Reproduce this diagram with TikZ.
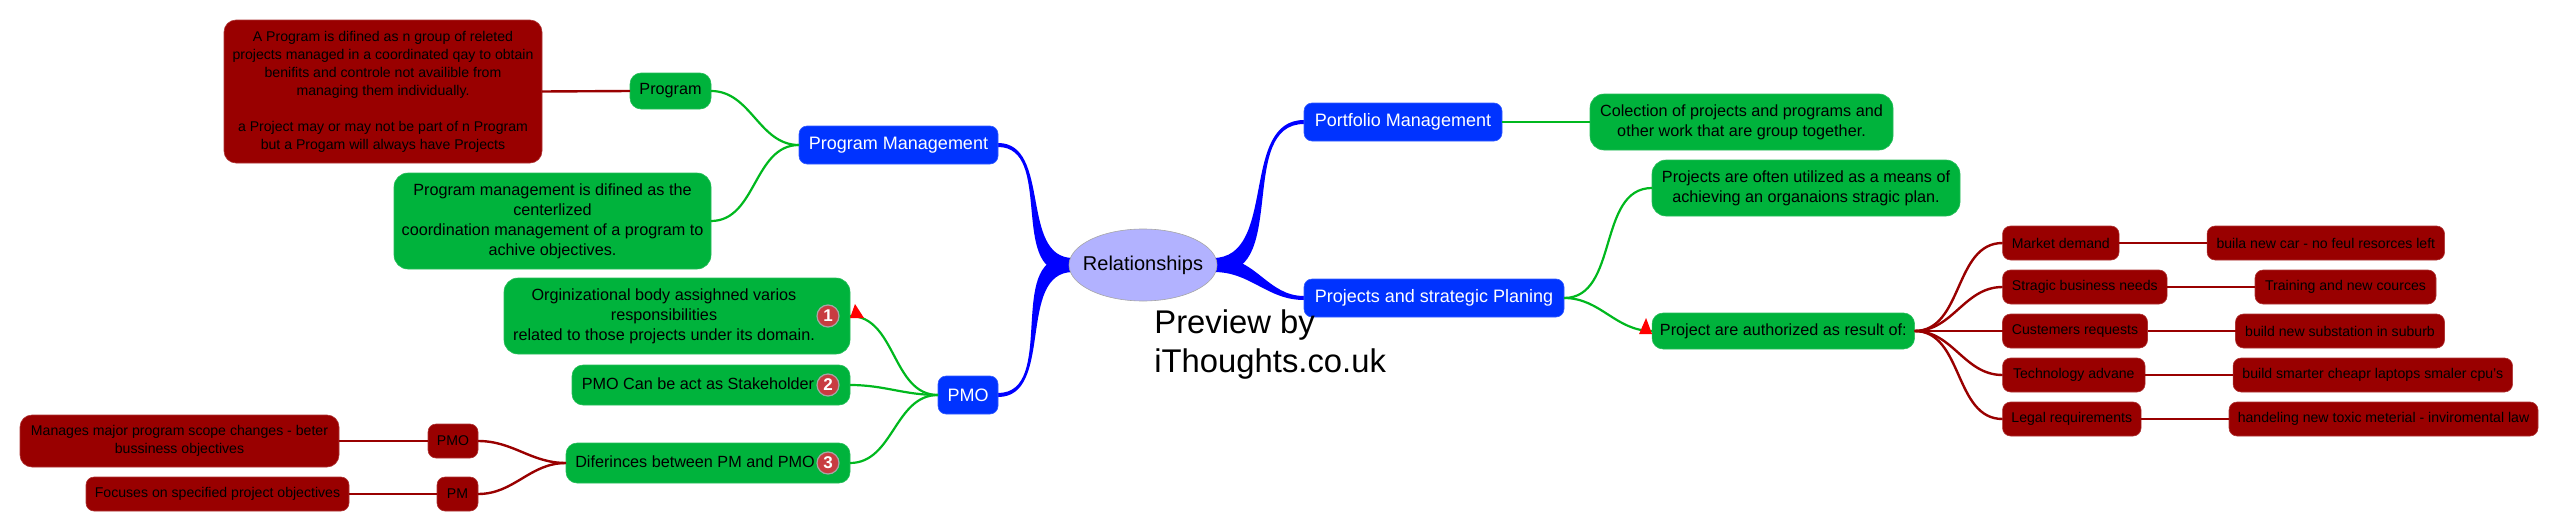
\documentclass[tikz,border=0pt]{standalone}
\usepackage{fontspec}
\setmainfont{Liberation Sans}
\usetikzlibrary{calc, backgrounds, shapes.geometric}

\definecolor{topicblue}{RGB}{0,51,255}
\definecolor{leafgreen}{RGB}{0,179,60}
\definecolor{linkgreen}{RGB}{0,184,30}
\definecolor{notered}{RGB}{153,0,0}
\definecolor{rootfill}{RGB}{178,178,255}
\definecolor{badgered}{RGB}{200,60,65}

\tikzset{
  sized/.style 2 args={minimum width=#1*0.5pt, minimum height=#2*0.5pt},
  topicbox/.style={rectangle, rounded corners=4pt, inner sep=0pt, outer sep=0pt, fill=topicblue, draw=topicblue!80!white, line width=0.3pt, text=white, font=\fontsize{9}{10}\selectfont, align=center},
  leafbox/.style={rectangle, rounded corners=5.5pt, inner sep=0pt, outer sep=0pt, fill=leafgreen, draw=leafgreen!85!white, line width=0.3pt, font=\fontsize{8.1}{10}\selectfont, align=center},
  notebox/.style={rectangle, rounded corners=4pt, inner sep=0pt, outer sep=0pt, fill=notered, draw=notered!80!white, line width=0.3pt, font=\fontsize{7.05}{9}\selectfont, align=center},
  badge/.style={circle, minimum size=11pt, inner sep=0pt, fill=badgered, draw=black!35, line width=0.6pt, text=white, font=\fontsize{8.5}{9}\bfseries\selectfont},
  greenlink/.style={draw=linkgreen, line width=1.1pt},
  redlink/.style={draw=notered, line width=1.2pt}
}

\newcommand{\badgeroom}[1]{\begin{tabular}{@{}c@{}}#1\end{tabular}\hspace{13pt}}
\newcommand{\taper}[4]{\fill[blue] ($(#1)+(#4,-7)$) to[out=#3,in=#3+180] ($(#2)+(0,-2)$) -- ($(#2)+(0,2)$) to[out=#3+180,in=#3] ($(#1)+(-#4,7)$) -- cycle;}

\begin{document}
\begin{tikzpicture}[x=0.5pt, y=-0.5pt, >=latex]
\useasboundingbox (0,0) rectangle (2559,530);

% centre
\node[ellipse, sized={148}{72}, inner sep=-4pt, outer sep=0pt, fill=rootfill, draw=black!35, line width=0.3pt, font=\fontsize{10}{10}\selectfont] (root) at (1143,265) {Relationships};

% left side
\node[topicbox, sized={199}{38}] (progmgmt) at (898.5,145) {Program Management};
\node[topicbox, sized={60}{38}] (pmo) at (968,395) {PMO};

\node[leafbox, sized={81}{36}] (program) at (670.5,91) {Program};
\node[notebox, rounded corners=6pt, sized={318}{143}] (programnote) at (383,91.5) {A Program is difined as n group of releted\\projects managed in a coordinated qay to obtain\\benifits and controle not availible from\\managing them individually.\\[9pt]a Project may or may not be part of n Program\\but a Progam will always have Projects};
\node[leafbox, rounded corners=7pt, sized={317}{96}] (progdef) at (552.5,221) {Program management is difined as the\\centerlized\\coordination management of a program to\\achive objectives.};

\node[leafbox, rounded corners=7pt, sized={346}{76}] (pmobody) at (677,316) {\badgeroom{Orginizational body assighned varios\\responsibilities\\related to those projects under its domain.}};
\node[leafbox, sized={278}{40}] (pmostake) at (711,385) {\badgeroom{PMO Can be act as Stakeholder}};
\node[leafbox, sized={284}{40}] (pmodiff) at (708,463) {\badgeroom{Diferinces between PM and PMO}};

\node[badge] (badgeone) at (828,316) {1};
\node[badge] (badgetwo) at (828,385) {2};
\node[badge] (badgethree) at (828,463) {3};

\node[notebox, sized={50}{34}] (diffpmo) at (453,441) {PMO};
\node[notebox, sized={41}{34}] (diffpm) at (457.5,494) {PM};
\node[notebox, rounded corners=6pt, sized={319}{52}] (pmonote) at (179.5,441) {Manages major program scope changes - beter\\bussiness objectives};
\node[notebox, sized={263}{34}] (pmnote) at (217.5,494) {Focuses on specified project objectives};

% right side
\node[topicbox, sized={198}{38}] (portfolio) at (1403,122) {Portfolio Management};
\node[topicbox, sized={260}{38}] (projects) at (1434,298) {Projects and strategic Planing};

\node[leafbox, rounded corners=7pt, sized={303}{56}] (collection) at (1741.5,122) {Colection of projects and programs and\\other work that are group together.};
\node[leafbox, rounded corners=7pt, sized={308}{56}] (means) at (1806,188) {Projects are often utilized as a means of\\achieving an organaions stragic plan.};
\node[leafbox, sized={262.5}{36}] (authorized) at (1783.3,331) {Project are authorized as result of:};

\node[notebox, sized={116.5}{34}] (market) at (2060.8,243) {Market demand};
\node[notebox, sized={164.5}{34}] (business) at (2084.8,287) {Stragic business needs};
\node[notebox, sized={145}{34}] (customers) at (2075,331) {Custemers requests};
\node[notebox, sized={142.5}{34}] (technology) at (2073.8,375) {Technology advane};
\node[notebox, sized={138.5}{34}] (legal) at (2071.8,419) {Legal requirements};

\node[notebox, sized={237.5}{34}] (marketnote) at (2325.8,243) {buila new car - no feul resorces left};
\node[notebox, sized={181}{34}] (businessnote) at (2345.5,287) {Training and new cources};
\node[notebox, sized={209}{34}] (customersnote) at (2340,331) {build new substation in suburb};
\node[notebox, sized={279.5}{34}] (technologynote) at (2372.8,375) {build smarter cheapr laptops smaler cpu's};
\node[notebox, sized={309}{34}] (legalnote) at (2383.5,419) {handeling new toxic meterial - inviromental law};

\node[anchor=west, inner sep=0pt, align=left, font=\fontsize{16.4}{19.5}\selectfont] (preview) at (1154,345) {Preview by\\iThoughts.co.uk};

% connectors
\begin{pgfonlayer}{background}
\taper{root.west}{progmgmt.east}{180}{4}
\taper{root.west}{pmo.east}{180}{-4}
\taper{root.east}{portfolio.west}{0}{-4}
\taper{root.east}{projects.west}{0}{3}
\end{pgfonlayer}

\draw[greenlink] (progmgmt.west) to[out=180,in=0] (program.east);
\draw[greenlink] (progmgmt.west) to[out=180,in=0] (progdef.east);
\draw[redlink] (program.west) -- (programnote.east);

\draw[greenlink] (pmo.west) to[out=180,in=0] (pmobody.east);
\draw[greenlink] (pmo.west) to[out=180,in=0] (pmostake.east);
\draw[greenlink] (pmo.west) to[out=180,in=0] (pmodiff.east);
\draw[redlink] (pmodiff.west) to[out=180,in=0] (diffpmo.east);
\draw[redlink] (pmodiff.west) to[out=180,in=0] (diffpm.east);
\draw[redlink] (diffpmo.west) -- (pmonote.east);
\draw[redlink] (diffpm.west) -- (pmnote.east);

\draw[greenlink] (portfolio.east) -- (collection.west);
\draw[greenlink] (projects.east) to[out=0,in=180] (means.west);
\draw[greenlink] (projects.east) to[out=0,in=180] (authorized.west);

\draw[redlink] (authorized.east) to[out=0,in=180] (market.west);
\draw[redlink] (authorized.east) to[out=0,in=180] (business.west);
\draw[redlink] (authorized.east) -- (customers.west);
\draw[redlink] (authorized.east) to[out=0,in=180] (technology.west);
\draw[redlink] (authorized.east) to[out=0,in=180] (legal.west);

\draw[redlink] (market.east) -- (marketnote.west);
\draw[redlink] (business.east) -- (businessnote.west);
\draw[redlink] (customers.east) -- (customersnote.west);
\draw[redlink] (technology.east) -- (technologynote.west);
\draw[redlink] (legal.east) -- (legalnote.west);

% red tips
\fill[red] ($(pmobody.east)+(0,2)$) -- ++(14,0) -- ++(-9,-14) -- cycle;
\fill[red] ($(authorized.west)+(0,3)$) -- ++(-13,0) -- ++(7,-16) -- cycle;

\end{tikzpicture}
\end{document}
